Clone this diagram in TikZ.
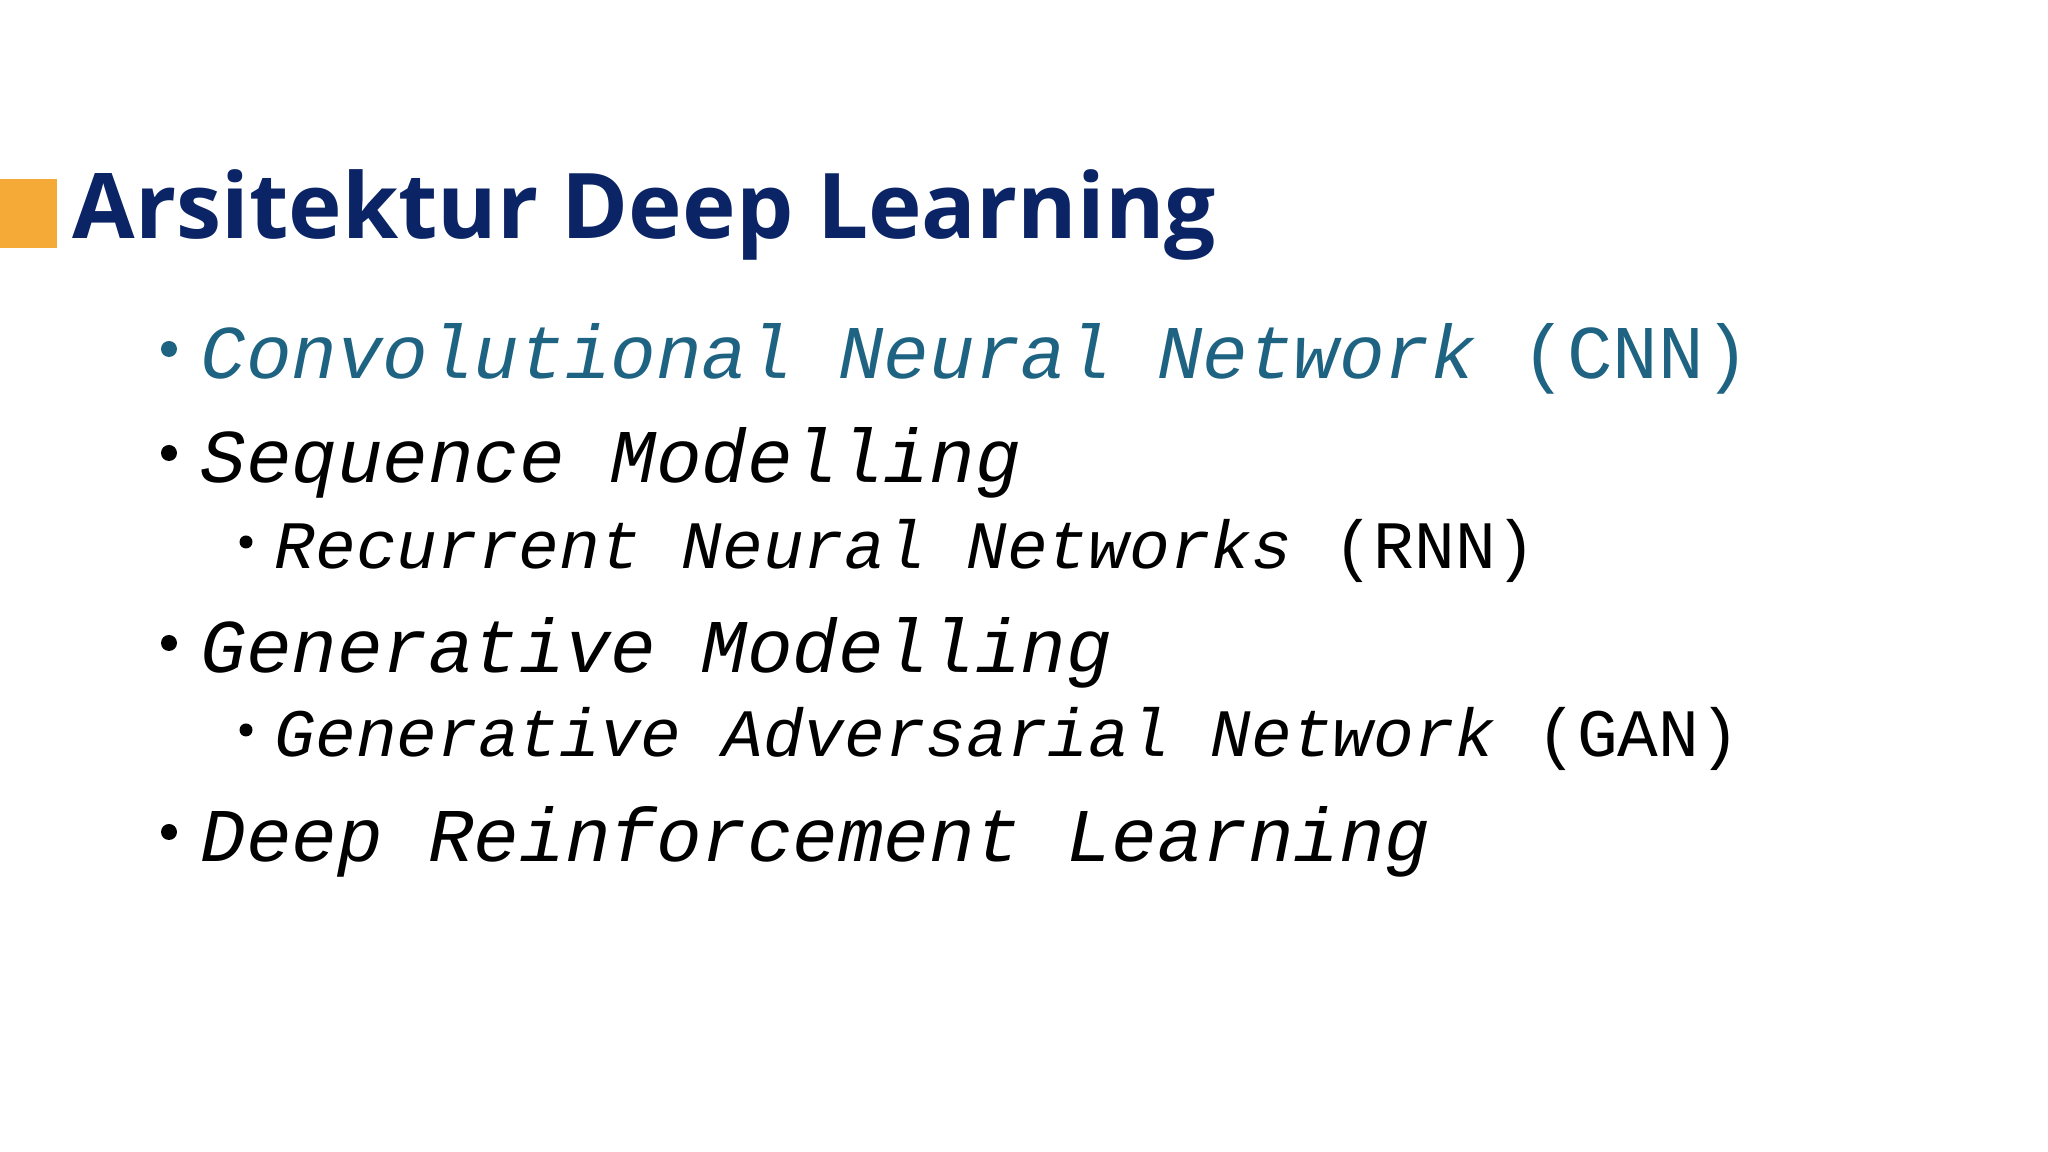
\documentclass[tikz,border=0pt]{standalone}
\usepackage{fontspec}
\setmainfont{Open Sans}
\setmonofont{Liberation Mono}
\begin{document}
\begin{tikzpicture}[x=1cm,y=1cm,
  item/.style={anchor=base west,inner sep=0pt,font=\fontsize{21.6}{24}\ttfamily},
  subitem/.style={anchor=base west,inner sep=0pt,font=\fontsize{19.3}{22}\ttfamily},
  dot/.style={circle,fill=#1,inner sep=0pt,minimum size=0.16cm}]
\definecolor{navy}{HTML}{0B2466}
\definecolor{orng}{HTML}{F5A936}
\definecolor{teal}{HTML}{1E6382}
\useasboundingbox[fill=white] (0,0) rectangle (20.48,11.52);
\fill[orng] (0,9.04) rectangle (0.57,9.73);
\node[anchor=base west,inner sep=0pt,text=navy,font=\fontsize{25.8}{30}\selectfont\bfseries] (title) at (0.72,9.13) {Arsitektur Deep Learning};
\node[dot=teal] (d1) at (1.69,8.03) {};
\node[item,text=teal] (i1) at (2.00,7.73) {\itshape Convolutional Neural Network \upshape(CNN)};
\node[dot=black] (d2) at (1.69,6.99) {};
\node[item] (i2) at (2.00,6.69) {\itshape Sequence Modelling};
\node[dot=black,minimum size=0.13cm] (d3) at (2.46,6.10) {};
\node[subitem] (i3) at (2.74,5.83) {\itshape Recurrent Neural Networks \upshape(RNN)};
\node[dot=black] (d4) at (1.69,5.09) {};
\node[item] (i4) at (2.00,4.79) {\itshape Generative Modelling};
\node[dot=black,minimum size=0.13cm] (d5) at (2.46,4.22) {};
\node[subitem] (i5) at (2.74,3.95) {\itshape Generative Adversarial Network \upshape(GAN)};
\node[dot=black] (d6) at (1.69,3.20) {};
\node[item] (i6) at (2.00,2.90) {\itshape Deep Reinforcement Learning};
\end{tikzpicture}
\end{document}
